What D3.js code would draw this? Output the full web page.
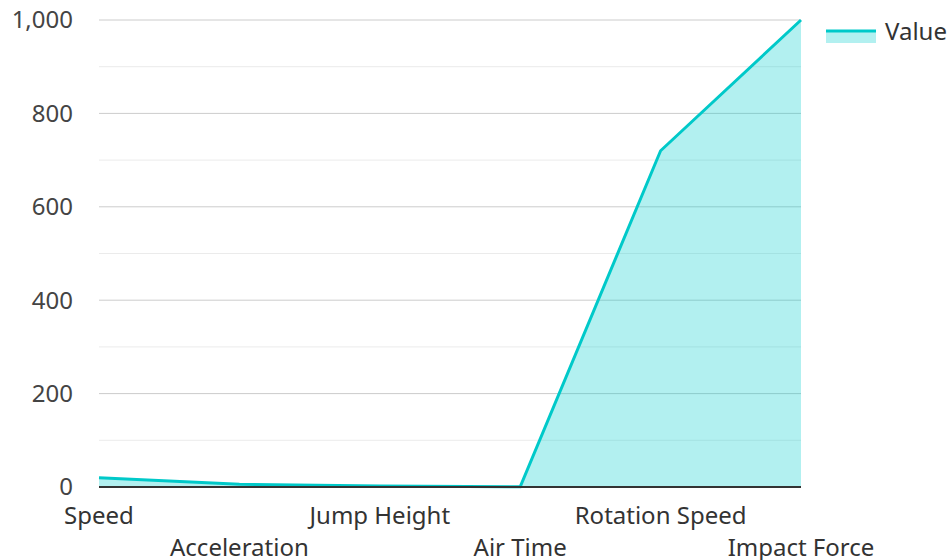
<!DOCTYPE html>
<html><head><meta charset="utf-8">
<script src="https://cdn.jsdelivr.net/npm/d3@7/dist/d3.min.js"></script>
<style>body{margin:0;background:#fff}text{font-family:"Noto Sans","Open Sans",sans-serif}</style>
</head><body><svg id="c" width="951" height="560"></svg>
<script>
const categories = ["Speed","Acceleration","Jump Height","Air Time","Rotation Speed","Impact Force"];
const values = [20, 6, 2, 0.5, 720, 1000];
const yTicks = [0,200,400,600,800,1000];
const yMinor = [100,300,500,700,900];
const seriesName = "Value";

const svg = d3.select("#c");
const L=99,R=801,T=20,B=487;
const x = d3.scalePoint().domain(categories).range([L,R]);
const y = d3.scaleLinear().domain([0,1000]).range([B,T]);
const lineColor="#00c9c9", fillColor="rgba(0,204,204,0.3)";

const g = svg.append("g");
g.selectAll(".minor").data(yMinor).join("line")
 .attr("x1",L).attr("x2",R).attr("y1",d=>y(d)).attr("y2",d=>y(d))
 .attr("stroke","#ebebeb").attr("stroke-width",1);
g.selectAll(".major").data(yTicks.filter(d=>d>0)).join("line")
 .attr("x1",L).attr("x2",R).attr("y1",d=>y(d)).attr("y2",d=>y(d))
 .attr("stroke","#cccccc").attr("stroke-width",1);

const data = categories.map((c,i)=>({c,v:values[i]}));
g.append("path").datum(data)
 .attr("d",d3.area().x(d=>x(d.c)).y0(y(0)).y1(d=>y(d.v)))
 .attr("fill",fillColor);
g.append("path").datum(data)
 .attr("d",d3.line().x(d=>x(d.c)).y(d=>y(d.v)))
 .attr("fill","none").attr("stroke",lineColor).attr("stroke-width",3).attr("stroke-linejoin","miter");

g.append("line").attr("x1",L).attr("x2",R).attr("y1",B).attr("y2",B)
 .attr("stroke","#333").attr("stroke-width",2);

const fmt = d3.format(",");
svg.selectAll(".yl").data(yTicks).join("text")
 .attr("x",73).attr("y",d=>y(d)).attr("dy","0.35em").attr("text-anchor","end")
 .attr("font-size",24).attr("fill","#444").text(d=>fmt(d));

svg.selectAll(".xl").data(categories).join("text")
 .attr("x",d=>x(d)).attr("y",(d,i)=>i%2===0?524:556).attr("text-anchor","middle")
 .attr("font-size",24).attr("fill","#333").text(d=>d);

const lg = svg.append("g");
lg.append("rect").attr("x",826).attr("y",31).attr("width",50).attr("height",12).attr("fill",fillColor);
lg.append("line").attr("x1",826).attr("x2",876).attr("y1",31).attr("y2",31).attr("stroke",lineColor).attr("stroke-width",3);
lg.append("text").attr("x",885).attr("y",32).attr("dy","0.35em").attr("font-size",24).attr("fill","#333").text(seriesName);
</script></body></html>
